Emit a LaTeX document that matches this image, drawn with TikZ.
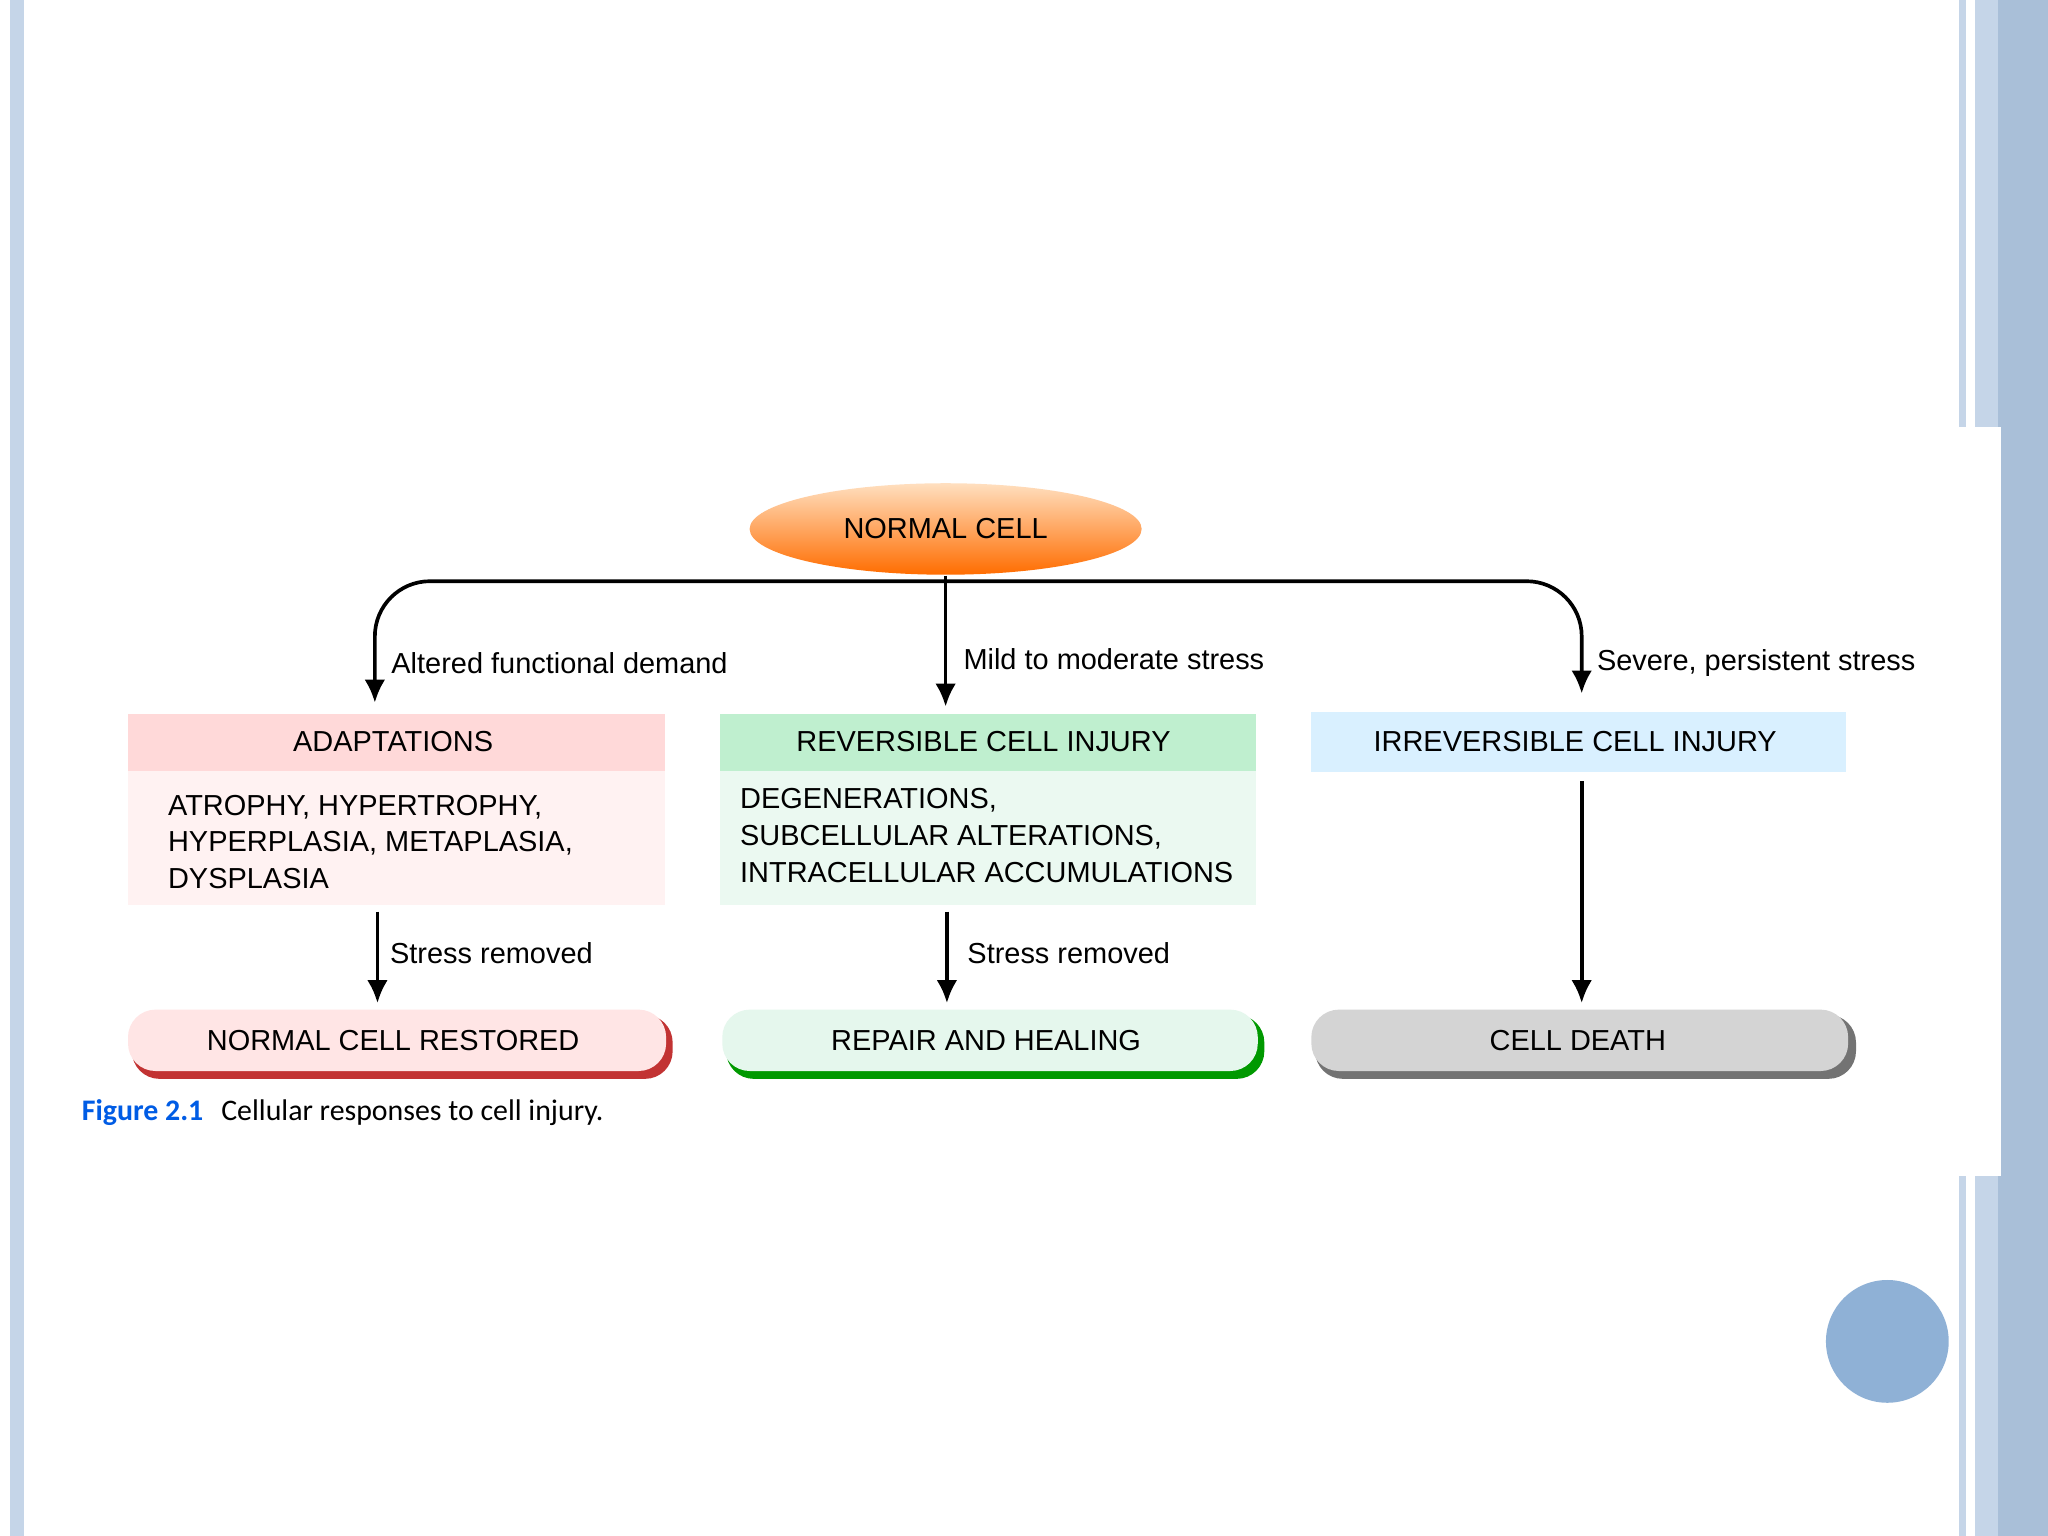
\documentclass[tikz,border=0pt]{standalone}
\usepackage{fontspec}
\setmainfont{Liberation Sans}
\newfontfamily\capfont{Carlito}
\usetikzlibrary{arrows.meta,shapes.geometric}
\definecolor{strip}{HTML}{C5D5E8}
\definecolor{stripdark}{HTML}{A9BFD8}
\definecolor{dot}{HTML}{8FB1D6}
\begin{document}
\begin{tikzpicture}[x=0.01cm,y=-0.01cm,
  lbl/.style={font=\fontsize{6.3}{8}\selectfont,inner sep=0pt},
  arr/.style={-{Latex[length=5pt,width=4.5pt]},line width=0.8pt},
  pill/.style={rounded corners=6pt}]
\useasboundingbox (0,0) rectangle (1568,1176);
\fill[white] (0,0) rectangle (1568,1176);
% frame decorations
\fill[strip] (8,0) rectangle (18,1176);
\fill[strip] (1500,0) rectangle (1505,1176);
\fill[strip] (1512,0) rectangle (1530,1176);
\fill[stripdark] (1530,0) rectangle (1568,1176);
\fill[white] (1498,327) rectangle (1532,900);
\fill[dot] (1445,1027) circle (47);
% ellipse
\node[ellipse,minimum width=3cm,minimum height=0.7cm,inner sep=0pt,
  top color=orange!25,bottom color=orange!85!red,draw=none,lbl] (nc) at (724,405) {NORMAL CELL};
% boxes
\fill[red!15!white] (98,547) rectangle (509,590);
\fill[red!5!white] (98,590) rectangle (509,693);
\node[lbl] (ad) at (301,568) {ADAPTATIONS};
\node[lbl,anchor=north west,align=left] (adb) at (128,608) {ATROPHY, HYPERTROPHY,\\HYPERPLASIA, METAPLASIA,\\DYSPLASIA};
\fill[green!50!teal!25!white] (551,547) rectangle (962,590);
\fill[green!40!teal!8!white] (551,590) rectangle (962,693);
\node[lbl] (rv) at (753,568) {REVERSIBLE CELL INJURY};
\node[lbl,anchor=north west,align=left] (rvb) at (566,603) {DEGENERATIONS,\\SUBCELLULAR ALTERATIONS,\\INTRACELLULAR ACCUMULATIONS};
\fill[blue!40!cyan!15!white] (1004,545) rectangle (1413,591);
\node[lbl] (ir) at (1206,568) {IRREVERSIBLE CELL INJURY};
% pills
\fill[pill,red!70!black!80] (101,777) rectangle (515,826);
\fill[pill,red!10!white] (98,773) rectangle (510,820);
\node[lbl] (nr) at (301,797) {NORMAL CELL RESTORED};
\fill[pill,green!60!black] (556,777) rectangle (968,826);
\fill[pill,green!40!teal!10!white] (553,773) rectangle (963,820);
\node[lbl] (rh) at (755,797) {REPAIR AND HEALING};
\fill[pill,black!55] (1007,777) rectangle (1421,826);
\fill[pill,black!17] (1004,773) rectangle (1415,820);
\node[lbl] (cd) at (1208,797) {CELL DEATH};
% coordinates
\coordinate (aTop) at (287,538);
\coordinate (mTop) at (724,541);
\coordinate (rTop) at (1211,531);
% connectors
\draw[arr,rounded corners=12pt] (724,445) -| (aTop);
\draw[arr,rounded corners=12pt] (724,445) -| (rTop);
\draw[arr] (nc.south) -- (mTop);
\draw[arr] (289,698) -- (289,768);
\draw[arr] (725,698) -- (725,768);
\draw[arr] (1211,598) -- (1211,768);
% labels
\node[lbl,anchor=west] at (299,508) {Altered functional demand};
\node[lbl,anchor=west] at (737,505) {Mild to moderate stress};
\node[lbl,anchor=west] at (1222,508) {Severe, persistent stress};
\node[lbl,anchor=west] at (298,730) {Stress removed};
\node[lbl,anchor=west] at (740,730) {Stress removed};
\node[anchor=west,inner sep=0pt,font=\capfont\fontsize{6.5}{8}\selectfont] at (62,852)
  {\textcolor{blue!60!cyan!90!black}{\textbf{Figure 2.1}}\hspace{0.6em}Cellular responses to cell injury.};
\end{tikzpicture}
\end{document}
